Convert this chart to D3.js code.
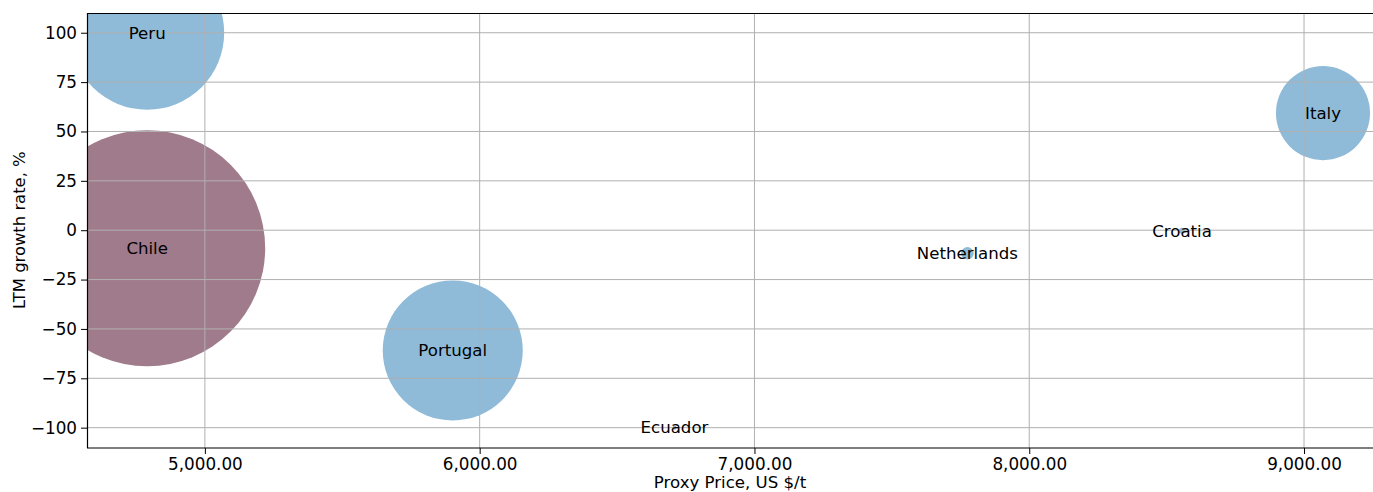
<!DOCTYPE html>
<html>
<head>
<meta charset="utf-8">
<title>Proxy price vs LTM growth</title>
<script src="https://d3js.org/d3.v7.min.js"></script>
<style>
  body { margin: 0; background: #fff; }
  text { font-family: "DejaVu Sans", sans-serif; }
</style>
</head>
<body>
<div id="chart"></div>
<script>
// data
var countries = ["Peru", "Chile", "Portugal", "Ecuador", "Netherlands", "Croatia", "Italy"];
var prices    = [4790, 4790, 5902, 6709, 7775, 8556, 9069];
var growth    = [100, -9.1, -60.9, -100, -11.7, -0.3, 59.3];
var volumes   = [42.6, 100, 35.2, 0.03, 0.28, 0.065, 15.9];
var colors    = ["#8fbbd9", "#a07b8b", "#8fbbd9", "#8fbbd9", "#8fbbd9", "#8fbbd9", "#8fbbd9"];
var xTicks = [5000, 6000, 7000, 8000, 9000];
var yTicks = [-100, -75, -50, -25, 0, 25, 50, 75, 100];

var width = 1373, height = 492;
var margin = {top: 13, right: 0, bottom: 44, left: 87};
var iw = width - margin.left - margin.right,
    ih = height - margin.top - margin.bottom;

var svg = d3.select("#chart").append("svg")
  .attr("width", width).attr("height", height);

var g = svg.append("g").attr("transform", "translate(" + margin.left + "," + margin.top + ")");

var x = d3.scaleLinear().domain([4571, 9251]).range([0, iw]);
var y = d3.scaleLinear().domain([-110.3, 110]).range([ih, 0]);
var r = d3.scaleSqrt().domain([0, 100]).range([0, 118]);

svg.append("defs").append("clipPath").attr("id", "clip")
  .append("rect").attr("width", iw).attr("height", ih);

var rows = countries.map(function(c, i) {
  return {name: c, price: prices[i], growth: growth[i], vol: volumes[i], color: colors[i]};
});

var plot = g.append("g").attr("clip-path", "url(#clip)");

plot.selectAll("circle").data(rows).enter().append("circle")
  .attr("cx", function(d) { return x(d.price); })
  .attr("cy", function(d) { return y(d.growth); })
  .attr("r", function(d) { return r(d.vol); })
  .attr("fill", function(d) { return d.color; });

// grid sits on top of the bubbles
var grid = plot.append("g");
grid.selectAll(".gx").data(xTicks).enter().append("line")
  .attr("x1", x).attr("x2", x).attr("y1", 0).attr("y2", ih)
  .attr("stroke", "#b0b0b0").attr("stroke-width", 1);
grid.selectAll(".gy").data(yTicks).enter().append("line")
  .attr("y1", y).attr("y2", y).attr("x1", 0).attr("x2", iw)
  .attr("stroke", "#b0b0b0").attr("stroke-width", 1);

plot.selectAll(".lbl").data(rows).enter().append("text")
  .attr("x", function(d) { return x(d.price); })
  .attr("y", function(d) { return y(d.growth); })
  .attr("text-anchor", "middle")
  .attr("dy", "0.35em")
  .attr("font-size", 16.6)
  .attr("fill", "#000")
  .text(function(d) { return d.name; });

// axes
var xAxis = d3.axisBottom(x).tickValues(xTicks).tickFormat(d3.format(",.2f")).tickSize(6).tickPadding(4);
var yAxis = d3.axisLeft(y).tickValues(yTicks).tickFormat(d3.format("d")).tickSize(6).tickPadding(4);

var gx = g.append("g").attr("transform", "translate(0," + ih + ")").call(xAxis);
var gy = g.append("g").call(yAxis);
[gx, gy].forEach(function(a) {
  a.selectAll("text").attr("font-size", 16.8).attr("fill", "#000").style("font-family", "DejaVu Sans");
  a.selectAll("line").attr("stroke", "#000");
  a.select(".domain").attr("stroke", "#000").attr("stroke-width", 1.2);
});
gy.select(".domain").attr("d", "M0.5," + ih + "V0");
gx.select(".domain").attr("d", "M0,0H" + iw);

g.append("line").attr("x1", 0).attr("x2", iw).attr("y1", 0.5).attr("y2", 0.5)
  .attr("stroke", "#000").attr("stroke-width", 1.2);

svg.append("text")
  .attr("x", margin.left + iw / 2).attr("y", 488)
  .attr("text-anchor", "middle").attr("font-size", 16.6)
  .text("Proxy Price, US $/t");

svg.append("text")
  .attr("transform", "translate(25," + (margin.top + y(0)) + ") rotate(-90)")
  .attr("text-anchor", "middle").attr("font-size", 16.4)
  .text("LTM growth rate, %");
</script>
</body>
</html>
